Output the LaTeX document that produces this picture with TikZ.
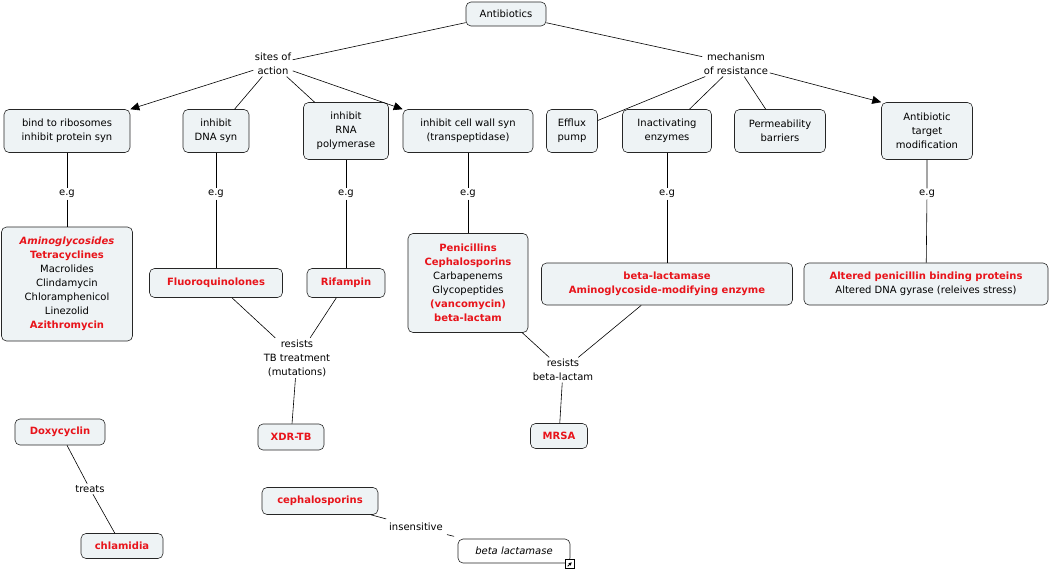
\documentclass[tikz,border=0pt]{standalone}
\usepackage{fontspec}
\setmainfont{DejaVu Sans}
\usetikzlibrary{arrows.meta}
\definecolor{boxfill}{HTML}{EEF3F5}
\definecolor{rd}{HTML}{E8141B}
\begin{document}
\begin{tikzpicture}[x=1pt,y=-1pt,font=\fontsize{10}{14}\selectfont,
  box/.style={draw=black!85,fill=boxfill,rounded corners=5pt,align=center,inner sep=3pt,line width=0.6pt},
  lab/.style={fill=white,align=center,inner sep=1.5pt},
  red/.style={text=rd,font=\fontsize{10}{14}\selectfont\bfseries},
  ln/.style={draw=black,line width=0.6pt},
  arr/.style={ln,-{Triangle[length=9pt,width=8pt]}}]
\useasboundingbox (0,0) rectangle (1051,573);
\node[box,minimum width=80pt,minimum height=24pt] (ab) at (506,14) {Antibiotics};
\node[lab] (sites) at (273,64) {sites of\\action};
\node[lab] (mech) at (736,64) {mechanism\\of resistance};
\node[box,minimum width=126pt,minimum height=43pt] (bind) at (67,131) {bind to ribosomes\\inhibit protein syn};
\node[box,minimum width=66pt,minimum height=43pt] (dna) at (216,131) {inhibit\\DNA syn};
\node[box,minimum width=85pt,minimum height=57pt] (rna) at (346,131) {inhibit\\RNA\\polymerase};
\node[box,minimum width=130pt,minimum height=43pt] (cw) at (468,131) {inhibit cell wall syn\\(transpeptidase)};
\node[box,minimum width=51pt,minimum height=43pt] (eff) at (572,131) {Efflux\\pump};
\node[box,minimum width=89pt,minimum height=43pt] (inact) at (667,131) {Inactivating\\enzymes};
\node[box,minimum width=91pt,minimum height=43pt] (perm) at (780,131) {Permeability\\barriers};
\node[box,minimum width=91pt,minimum height=57pt] (targ) at (927,131) {Antibiotic\\target\\modification};
\foreach \n/\x in {e1/67,e2/216,e3/346,e4/468,e5/667,e6/927}
  \node[lab] (\n) at (\x,194) {e.g};
\node[box,minimum width=131pt,minimum height=114pt] (amino) at (67,284)
 {{\color{rd}\bfseries\itshape Aminoglycosides}\\{\color{rd}\bfseries Tetracyclines}\\Macrolides\\Clindamycin\\Chloramphenicol\\Linezolid\\{\color{rd}\bfseries Azithromycin}};
\node[box,red,minimum width=133pt,minimum height=29pt] (fq) at (216,283) {Fluoroquinolones};
\node[box,red,minimum width=78pt,minimum height=29pt] (rif) at (346,283) {Rifampin};
\node[box,minimum width=120pt,minimum height=99pt] (pen) at (468,283)
 {{\color{rd}\bfseries Penicillins}\\{\color{rd}\bfseries Cephalosporins}\\Carbapenems\\Glycopeptides\\{\color{rd}\bfseries (vancomycin)}\\{\color{rd}\bfseries beta-lactam}};
\node[box,red,minimum width=251pt,minimum height=42pt] (bl) at (667,284) {beta-lactamase\\Aminoglycoside-modifying enzyme};
\node[box,minimum width=244pt,minimum height=42pt] (alt) at (926,284) {{\color{rd}\bfseries Altered penicillin binding proteins}\\Altered DNA gyrase (releives stress)};
\node[lab] (rtb) at (297,358) {resists\\TB treatment\\(mutations)};
\node[lab] (rbl) at (563,370) {resists\\beta-lactam};
\node[box,red,minimum width=66pt,minimum height=26pt] (xdr) at (291,437) {XDR-TB};
\node[box,red,minimum width=57pt,minimum height=25pt] (mrsa) at (559,436) {MRSA};
\node[box,red,minimum width=90pt,minimum height=26pt] (dox) at (60,432) {Doxycyclin};
\node[lab] (treats) at (90,489) {treats};
\node[box,red,minimum width=82pt,minimum height=25pt] (chl) at (122,546) {chlamidia};
\node[box,red,minimum width=116pt,minimum height=27pt] (ceph) at (320,501) {cephalosporins};
\node[lab,inner sep=4pt] (ins) at (416,527) {insensitive};
\node[box,fill=white,minimum width=112pt,minimum height=24pt,font=\fontsize{10}{14}\selectfont\itshape] (btl) at (514,551) {beta lactamase};
\node[draw=black,fill=white,minimum size=9pt,inner sep=0pt,line width=0.6pt] (ic) at (570,564) {};
\draw[line width=0.9pt,-{Triangle[length=3pt,width=3pt]}] (ic.south west)++(2.5,-2.5) -- ++(4,-4);
% connectors
\draw[ln] (ab) -- (sites); \draw[ln] (ab) -- (mech);
\draw[arr] (sites) -- (bind.north east);
\draw[arr] (sites) -- (cw.north west);
\draw[ln] (sites) -- (dna); \draw[ln] (sites) -- (rna);
\draw[ln] (mech) -- (eff); \draw[ln] (mech) -- (inact); \draw[ln] (mech) -- (perm);
\draw[arr] (mech) -- (targ.north west);
\draw[ln] (bind) -- (e1) -- (amino);
\draw[ln] (dna) -- (e2) -- (fq);
\draw[ln] (rna) -- (e3) -- (rif);
\draw[ln] (cw) -- (e4) -- (pen);
\draw[ln] (inact) -- (e5) -- (bl);
\draw[ln] (targ) -- (e6) -- (alt);
\draw[ln] (fq) -- (rtb); \draw[ln] (rif) -- (rtb); \draw[ln] (rtb) -- (xdr);
\draw[ln] (pen) -- (rbl); \draw[ln] (bl) -- (rbl); \draw[ln] (rbl) -- (mrsa);
\draw[ln] (dox) -- (treats) -- (chl);
\draw[ln,shorten >=10pt] (ceph) -- (ins) -- (btl);
\end{tikzpicture}
\end{document}
